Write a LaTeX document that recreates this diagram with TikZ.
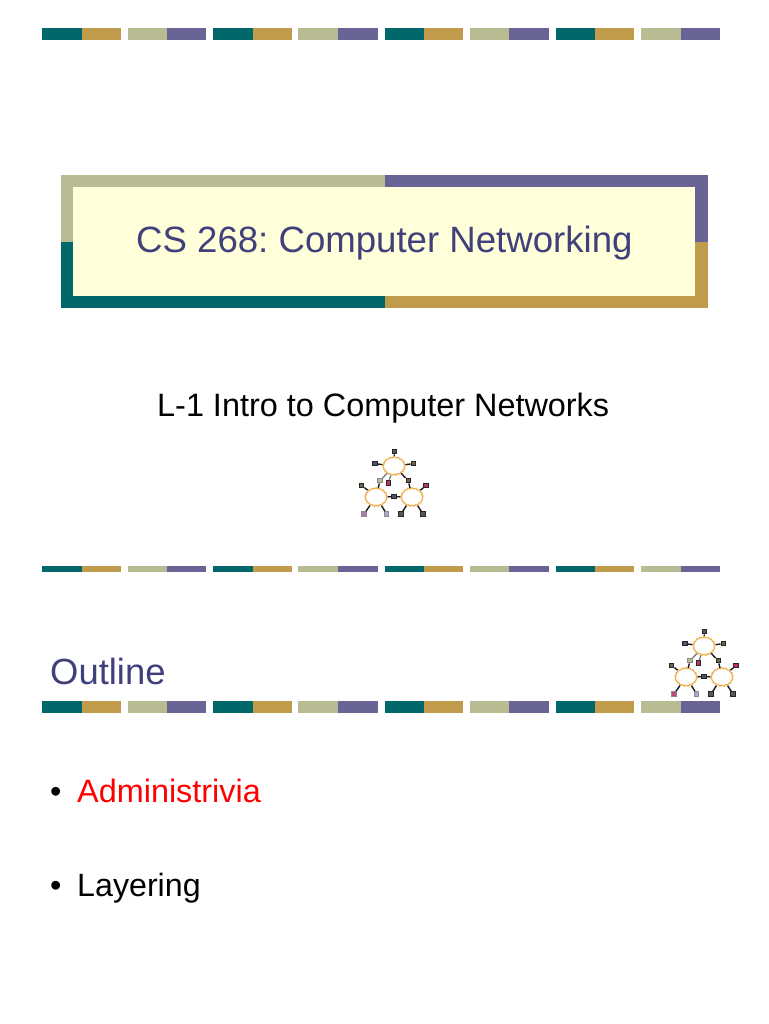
\documentclass[tikz,border=0pt]{standalone}
\usepackage{fontspec}
\setmainfont{Liberation Sans}
\usetikzlibrary{shapes.symbols}
\definecolor{cteal}{HTML}{00686A}
\definecolor{cgold}{HTML}{BF9B4B}
\definecolor{csage}{HTML}{B9BC93}
\definecolor{cpurp}{HTML}{686596}
\definecolor{cyel}{HTML}{FFFFD9}
\definecolor{ctitle}{HTML}{40407C}
\definecolor{corg}{HTML}{F2B14F}
\definecolor{hpink}{HTML}{C0306E}
\definecolor{hgrey}{HTML}{5A5A5A}
\definecolor{hblue}{HTML}{50526E}
\definecolor{holive}{HTML}{6E6844}
\definecolor{hlav}{HTML}{B0A8C8}
\tikzset{
  seg/.style={fill=#1,draw=none},
  txt/.style={anchor=base west,inner sep=0pt,text=black},
  blob/.style={cloud,cloud puffs=17,cloud puff arc=120,cloud ignores aspect,draw=corg,line width=1.3pt,fill=white,inner sep=0pt,minimum width=22pt,minimum height=18.5pt},
  host/.style={draw=black!85,line width=1.1pt,fill=#1,inner sep=0pt,minimum size=4.4pt,rectangle},
  link/.style={draw=black!90,line width=1.4pt},
}
\newcommand{\barrow}[2]{%
  \foreach \xa/\xb/\xc/\ca/\cb in {42/82/121/cteal/cgold,128/167/206/csage/cpurp,213/253/292/cteal/cgold,298/338/378/csage/cpurp,385/424/463/cteal/cgold,470/509/549/csage/cpurp,556/595/634/cteal/cgold,641/681/720/csage/cpurp}{
    \fill[seg=\ca] (\xa,#1) rectangle (\xb,#2);
    \fill[seg=\cb] (\xb,#1) rectangle (\xc,#2);
  }}
\newcommand{\neticon}[4]{%
  \begin{scope}[shift={(#2,#3)}]
    \node[blob] (#1t) at (394,466) {};
    \node[blob] (#1l) at (376,497) {};
    \node[blob] (#1r) at (412,497) {};
    \node[host=hgrey] (#1a) at (394.3,451.7) {};
    \node[host=hblue] (#1b) at (375,463.7) {};
    \node[host=holive] (#1c) at (413.3,463.7) {};
    \node[host=csage,draw=black!45] (#1d) at (380,480.7) {};
    \node[host=hpink] (#1e) at (388.3,483) {};
    \node[host=holive] (#1f) at (408.3,480.7) {};
    \node[host=holive] (#1g) at (361.7,485.3) {};
    \node[host=hpink] (#1h) at (426,485.7) {};
    \node[host=hblue] (#1i) at (394,496.7) {};
    \node[host=#4,draw=black!45] (#1j) at (364,514) {};
    \node[host=hlav,draw=black!45] (#1k) at (386.7,514) {};
    \node[host=hgrey] (#1m) at (401,514) {};
    \node[host=hgrey] (#1n) at (423,514) {};
    \draw[link] (#1a) -- (#1t);
    \draw[link] (#1b) -- (#1t);
    \draw[link] (#1c) -- (#1t);
    \draw[link,draw=black!50] (#1d) -- (#1t);
    \draw[link] (#1d) -- (#1l);
    \draw[link,draw=black!50] (#1e) -- (#1t);
    \draw[link] (#1f) -- (#1t);
    \draw[link] (#1f) -- (#1r);
    \draw[link] (#1g) -- (#1l);
    \draw[link] (#1h) -- (#1r);
    \draw[link] (#1i) -- (#1l);
    \draw[link] (#1i) -- (#1r);
    \draw[link] (#1j) -- (#1l);
    \draw[link] (#1k) -- (#1l);
    \draw[link] (#1m) -- (#1r);
    \draw[link] (#1n) -- (#1r);
  \end{scope}}
\begin{document}
\begin{tikzpicture}[x=1pt,y=-1pt]
\frenchspacing
\useasboundingbox (0,0) rectangle (768,1024);
\fill[white] (0,0) rectangle (768,1024);
\barrow{28}{40}
\barrow{566}{571.5}
\barrow{701}{713}
% frame
\fill[csage] (60.5,175) rectangle (385,187);
\fill[csage] (60.5,175) rectangle (73,242);
\fill[cpurp] (385,175) rectangle (708,187);
\fill[cpurp] (695,175) rectangle (708,242);
\fill[cteal] (60.5,242) rectangle (73,308);
\fill[cteal] (60.5,296) rectangle (385,308);
\fill[cgold] (385,296) rectangle (708,308);
\fill[cgold] (695,242) rectangle (708,308);
\fill[cyel] (73,187) rectangle (695,296);
\node[txt,text=ctitle,font=\fontsize{36.6}{40}\selectfont] (title) at (136,252) {CS 268: Computer Networking};
\node[txt,font=\fontsize{32.4}{36}\selectfont] (sub) at (157,416) {L-1 Intro to Computer Networks};
\node[txt,text=ctitle,font=\fontsize{36.4}{40}\selectfont] (outline) at (50,684) {Outline};
\node[txt,font=\fontsize{32.4}{36}\selectfont] (b1) at (50,802) {•};
\node[txt,text=red,font=\fontsize{32.4}{36}\selectfont] (admin) at (77,802) {Administrivia};
\node[txt,font=\fontsize{32.4}{36}\selectfont] (b2) at (50,896) {•};
\node[txt,font=\fontsize{32.2}{36}\selectfont] (lay) at (77,896) {Layering};
\neticon{p}{0}{0}{hlav!60!hpink}
\neticon{q}{310}{180}{hpink!80!hlav}
\end{tikzpicture}
\end{document}
